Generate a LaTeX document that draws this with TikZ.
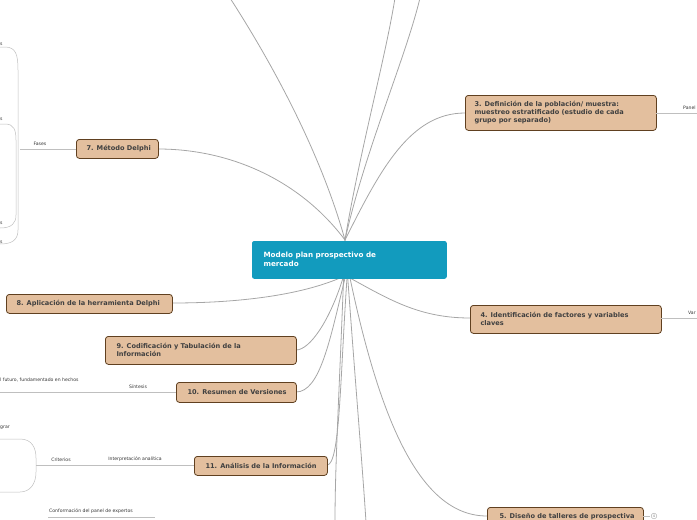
\documentclass[tikz,border=0pt]{standalone}
\usepackage{fontspec}
\setmainfont{DejaVu Sans}
\begin{document}
\begin{tikzpicture}[x=1pt,y=-1pt,
  ln/.style={draw=black!35,line width=0.8pt},
  thin/.style={draw=black!25,line width=0.5pt},
  topic/.style={draw=brown!50!black,fill=brownfill,rounded corners=3pt,line width=0.8pt,anchor=north west,inner sep=0pt},
  tt/.style={font=\bfseries\fontsize{6.6}{8}\selectfont,text=black!75,align=left,anchor=west},
  sm/.style={font=\fontsize{4.6}{5.5}\selectfont,text=black!80,inner sep=1pt}]
\definecolor{brownfill}{HTML}{E3BF9E}
\definecolor{teal}{HTML}{129BBE}
\useasboundingbox (0,0) rectangle (697,520);
\clip (0,0) rectangle (697,520);
\coordinate (hub) at (345,240);
\coordinate (t1) at (230,-2);
\coordinate (t2) at (395,-2);
\coordinate (t3) at (420,-2);
\coordinate (b1) at (335,522);
\coordinate (b2) at (366,522);
% connectors
\draw[ln] (hub) .. controls (320,150) and (270,60) .. (t1);
\draw[ln] (hub) .. controls (360,150) and (385,60) .. (t2);
\draw[ln] (hub) .. controls (365,150) and (405,60) .. (t3);
\draw[ln] (hub) .. controls (340,380) and (335,460) .. (b1);
\draw[ln] (hub) .. controls (355,380) and (362,460) .. (b2);
\draw[ln] (hub) .. controls (380,170) and (410,113) .. (465,113);
\draw[ln] (350,278) .. controls (390,300) and (420,318) .. (470,318);
\draw[ln] (350,278) .. controls (380,420) and (420,516) .. (487,516);
\draw[ln] (hub) .. controls (300,180) and (230,149) .. (158,149);
\draw[ln] (340,278) .. controls (300,295) and (240,303) .. (172,303);
\draw[ln] (343,278) .. controls (330,320) and (310,350) .. (296,350);
\draw[ln] (345,278) .. controls (330,340) and (320,392) .. (296,392);
\draw[ln] (347,278) .. controls (340,380) and (340,465) .. (327,465);
% topics
\node[topic,minimum width=194pt,minimum height=37pt,fill=teal,draw=teal,rounded corners=2pt] (c) at (252,241) {};
\node[font=\bfseries\fontsize{7.2}{9}\selectfont,text=white,align=left,anchor=west] at (260,259.5) {Modelo plan prospectivo de\\mercado};
\node[topic,minimum width=191pt,minimum height=35pt] (n3) at (465,95) {};
\node[tt] at (471,112.5) {3. Definición de la población/ muestra:\\muestreo estratificado (estudio de cada\\grupo por separado)};
\node[topic,minimum width=191pt,minimum height=28pt] (n4) at (470,305) {};
\node[tt] at (477,319) {4. Identificación de factores y variables\\claves};
\node[topic,minimum width=156pt,minimum height=22pt] (n5) at (487,507) {};
\node[tt] at (496,517) {5. Diseño de talleres de prospectiva};
\node[topic,minimum width=82pt,minimum height=19pt] (n7) at (76,139) {};
\node[tt] at (83,148.5) {7. Método Delphi};
\node[topic,minimum width=166pt,minimum height=19pt] (n8) at (6,294) {};
\node[tt] at (13,303.5) {8. Aplicación de la herramienta Delphi};
\node[topic,minimum width=191pt,minimum height=28pt] (n9) at (105,336) {};
\node[tt] at (113,350) {9. Codificación y Tabulación de la\\Información};
\node[topic,minimum width=120pt,minimum height=20pt] (n10) at (176,382) {};
\node[tt] at (184,392) {10. Resumen de Versiones};
\node[topic,minimum width=133pt,minimum height=19pt] (n11) at (194,456) {};
\node[tt] at (202,465.5) {11. Análisis de la Información};
% right stubs
\draw[thin] (656,113) -- (697,113);
\node[sm,anchor=south west] at (682,111) {Panel};
\draw[thin] (661,318) -- (697,318);
\node[sm,anchor=south west] at (687,316) {Var};
\draw[thin] (643,516) -- (650,516);
\node[draw=black!35,circle,inner sep=0.8pt,font=\fontsize{3.5}{4}\selectfont,text=black!50] (k) at (654,516) {4};
% left: Delphi phases
\draw[thin] (76,149) -- (20,149);
\node[sm,anchor=south] at (40,147) {Fases};
\draw[thin] (0,47) -- (5,47) .. controls (16,47) and (18,55) .. (18,70) -- (18,230) .. controls (18,240) and (12,244) .. (0,244);
\draw[thin] (0,124) -- (5,124) .. controls (14,124) and (16,130) .. (16,140) -- (16,215) .. controls (16,223) and (12,228) .. (0,228);
\node[sm,anchor=west,inner sep=0pt] at (0,44) {s};
\node[sm,anchor=west,inner sep=0pt] at (0,119) {s};
\node[sm,anchor=west,inner sep=0pt] at (0,223) {s};
\node[sm,anchor=west,inner sep=0pt] at (0,242) {s};
% Resumen
\draw[thin] (0,392) -- (176,392);
\node[sm,anchor=south] at (138,390) {Síntesis};
\node[sm,anchor=west,inner sep=0pt] at (0,380) {l futuro, fundamentado en hechos};
% Analisis
\draw[thin] (36,465) -- (194,465);
\node[sm,anchor=south] at (61,463) {Criterios};
\node[sm,anchor=south] at (135,463) {Interpretación analítica};
\node[sm,anchor=west,inner sep=0pt] at (0,428) {grar};
\draw[thin] (0,439) -- (20,439) .. controls (32,439) and (36,448) .. (36,458) -- (36,472) .. controls (36,484) and (30,492) .. (20,492) -- (0,492);
\draw[thin] (48,517) -- (155,517);
\node[sm,anchor=south west] at (48,515) {Conformación del panel de expertos};
\end{tikzpicture}
\end{document}
